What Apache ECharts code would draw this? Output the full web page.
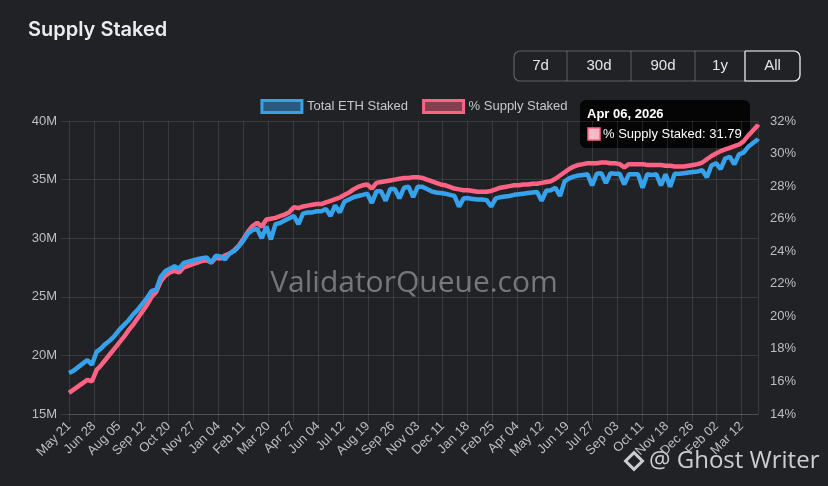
<!DOCTYPE html>
<html>
<head>
<meta charset="utf-8">
<title>Supply Staked</title>
<script src="https://cdn.jsdelivr.net/npm/echarts@6/dist/echarts.min.js"></script>
<style>
  html, body { margin: 0; padding: 0; background: #212226; }
  #chart { width: 828px; height: 486px; }
</style>
</head>
<body>
<div id="chart"></div>
<script>
// data: one point a week from May 21 2023, last point Apr 06 2026
var startDate = '2023-05-21';
var stepDays = 7;
var lastDay = 1051;   // Apr 06, 2026
var tickEvery = 38;   // days between x labels

// Total ETH Staked, millions (the low ones are the daily dips seen in the picture)
var blueM = [
  18.5, 18.7, 19.0, 19.3, 19.6, 19.2, 20.3, 20.6, 21.0, 21.3,
  21.7, 22.2, 22.6, 23.0, 23.5, 23.9, 24.4, 24.9, 25.5, 25.6,
  26.7, 27.2, 27.4, 27.6, 27.4, 27.9, 28.0, 28.1, 28.2, 28.3,
  28.35, 27.9, 28.5, 28.45, 28.2, 28.7, 28.9, 29.3, 29.8, 30.4,
  30.7, 30.8, 30.0, 31.0, 29.9, 31.2, 31.3, 31.5, 31.7, 31.9,
  31.2, 32.1, 32.2, 32.2, 32.3, 32.3, 32.5, 31.9, 32.8, 32.2,
  33.1, 33.3, 33.5, 33.6, 33.7, 33.8, 33.0, 34.0, 34.0, 33.2,
  34.2, 34.2, 33.4, 34.3, 34.4, 33.5, 34.4, 34.4, 34.2, 34.0,
  33.9, 33.85, 33.8, 33.7, 33.6, 32.7, 33.4, 33.4, 33.35, 33.3,
  33.3, 33.25, 32.7, 33.4, 33.5, 33.55, 33.6, 33.7, 33.75, 33.8,
  33.85, 33.9, 33.95, 33.2, 34.05, 34.1, 34.3, 33.6, 34.85, 35.1,
  35.25, 35.35, 35.4, 35.45, 34.5, 35.5, 35.55, 34.7, 35.55, 35.5,
  35.5, 34.6, 35.45, 35.45, 35.45, 34.3, 35.45, 35.4, 35.45, 34.5,
  35.45, 34.4, 35.5, 35.5, 35.55, 35.6, 35.65, 35.7, 35.8, 35.2,
  36.2, 36.4, 35.9, 36.8, 36.95, 36.3, 37.15, 37.3, 37.8, 38.1,
  38.4, 38.5
];

// % Supply Staked
var redPct = [
  15.3, 15.5, 15.7, 15.9, 16.1, 16.0, 16.7, 17.0, 17.35, 17.7,
  18.05, 18.4, 18.75, 19.15, 19.5, 19.9, 20.3, 20.7, 21.2, 21.5,
  22.15, 22.5, 22.7, 22.8, 22.7, 23.0, 23.1, 23.2, 23.3, 23.4,
  23.45, 23.3, 23.6, 23.55, 23.75, 23.85, 24.05, 24.35, 24.75, 25.2,
  25.55, 25.75, 25.5, 25.95, 26.0, 26.05, 26.15, 26.25, 26.4, 26.7,
  26.65, 26.75, 26.8, 26.85, 26.9, 26.9, 27.0, 27.1, 27.2, 27.3,
  27.45, 27.6, 27.8, 27.95, 28.05, 28.1, 27.85, 28.2, 28.25, 28.3,
  28.35, 28.4, 28.45, 28.5, 28.5, 28.55, 28.55, 28.5, 28.4, 28.3,
  28.2, 28.1, 28.05, 27.95, 27.85, 27.8, 27.75, 27.75, 27.7, 27.65,
  27.65, 27.65, 27.7, 27.8, 27.9, 27.95, 28.0, 28.05, 28.05, 28.1,
  28.1, 28.15, 28.15, 28.2, 28.25, 28.3, 28.45, 28.65, 28.85, 29.05,
  29.2, 29.3, 29.35, 29.4, 29.4, 29.4, 29.45, 29.45, 29.4, 29.4,
  29.35, 29.15, 29.35, 29.35, 29.35, 29.35, 29.3, 29.3, 29.3, 29.3,
  29.25, 29.25, 29.2, 29.2, 29.2, 29.25, 29.3, 29.35, 29.45, 29.65,
  29.85, 30.0, 30.15, 30.25, 30.35, 30.45, 30.55, 30.75, 31.1, 31.4,
  31.7, 31.79
];

var leftTicks = { min: 15, max: 40, step: 5 };
var rightTicks = { min: 14, max: 32, step: 2 };
var ranges = ['7d', '30d', '90d', '1y', 'All'];

var months = ['Jan','Feb','Mar','Apr','May','Jun','Jul','Aug','Sep','Oct','Nov','Dec'];
function pad(n){ return n < 10 ? '0' + n : '' + n; }

// one category per day, so the labels fall every 38 days like the original
var dayLabels = [], dayLong = [];
var t0 = new Date(startDate + 'T00:00:00Z');
for (var d = 0; d <= lastDay; d++) {
    var dt = new Date(t0.getTime() + d * 86400000);
    dayLabels.push(months[dt.getUTCMonth()] + ' ' + pad(dt.getUTCDate()));
    dayLong.push(months[dt.getUTCMonth()] + ' ' + pad(dt.getUTCDate()) + ', ' + dt.getUTCFullYear());
}

function toPoints(vals){
    var out = [];
    for (var i = 0; i < vals.length; i++) {
        var day = i * stepDays;
        if (day > lastDay || i === vals.length - 1) day = lastDay;
        out.push([day, vals[i]]);
    }
    return out;
}

var blue = '#36A2EB', pink = '#FF6384';
var gridCol = 'rgba(255,255,255,0.11)';
var labelCol = '#bdbec2';
var font = '"Liberation Sans", Arial, sans-serif';

// range buttons
var btnX = [514, 567, 631, 695, 745, 800];
var btnEls = [];
btnEls.push({
    type: 'rect', shape: { x: 514, y: 51, width: 286, height: 30, r: 6 },
    style: { fill: 'none', stroke: 'rgba(255,255,255,0.28)', lineWidth: 1.2 }
});
for (var b = 0; b < ranges.length; b++) {
    if (b > 0) {
        btnEls.push({
            type: 'line', shape: { x1: btnX[b], y1: 51, x2: btnX[b], y2: 81 },
            style: { stroke: 'rgba(255,255,255,0.28)', lineWidth: 1 }
        });
    }
    btnEls.push({
        type: 'text',
        style: {
            x: (btnX[b] + btnX[b + 1]) / 2, y: 66, text: ranges[b],
            fill: '#e6e6e6', font: '15px ' + font, align: 'center', verticalAlign: 'middle'
        }
    });
}
btnEls.push({
    type: 'rect', shape: { x: 745, y: 51, width: 55, height: 30, r: [0, 6, 6, 0] },
    style: { fill: 'none', stroke: '#e8e8e8', lineWidth: 1.2 }
});

// hover box for the last point, like the original screenshot
var lastVal = redPct[redPct.length - 1];
var tipEls = [
    { type: 'rect', shape: { x: 580, y: 100, width: 170, height: 48, r: 6 }, style: { fill: 'rgba(0,0,0,0.85)' } },
    { type: 'text', style: { x: 587, y: 114, text: dayLong[lastDay], fill: '#fff',
        font: 'bold 13px ' + font, verticalAlign: 'middle' } },
    { type: 'rect', shape: { x: 588, y: 128, width: 12, height: 12 },
        style: { fill: '#f7b9c5', stroke: pink, lineWidth: 1.5 } },
    { type: 'text', style: { x: 603, y: 134.5, text: '% Supply Staked: ' + lastVal.toFixed(2), fill: '#fff',
        font: '13px ' + font, verticalAlign: 'middle' } }
];

var myChart = echarts.init(document.getElementById('chart'));

var option = {
    backgroundColor: '#212226',
    animation: false,
    title: {
        text: 'Supply Staked', left: 28, top: 20, padding: 0,
        textStyle: { color: '#ececec', fontSize: 20, fontWeight: 600, fontFamily: 'Inter, sans-serif' }
    },
    legend: {
        top: 94, left: 'center', icon: 'rect', itemWidth: 40, itemHeight: 12, itemGap: 14,
        textStyle: { color: '#c6c7ca', fontSize: 13, fontFamily: font },
        data: [
            { name: 'Total ETH Staked', itemStyle: { color: 'rgba(54,162,235,0.45)', borderColor: blue, borderWidth: 3 } },
            { name: '% Supply Staked', itemStyle: { color: 'rgba(255,99,132,0.45)', borderColor: pink, borderWidth: 3 } }
        ]
    },
    grid: { left: 69, right: 70, top: 121, bottom: 72 },
    xAxis: {
        type: 'category', data: dayLabels, boundaryGap: false,
        axisLine: { show: true, lineStyle: { color: gridCol } },
        axisTick: { show: true, interval: tickEvery - 1, length: 8, lineStyle: { color: gridCol } },
        splitLine: { show: true, interval: tickEvery - 1, lineStyle: { color: gridCol } },
        axisLabel: {
            interval: tickEvery - 1, rotate: 45, margin: 10,
            color: labelCol, fontSize: 13, fontFamily: font
        }
    },
    yAxis: [{
        type: 'value', min: leftTicks.min, max: leftTicks.max, interval: leftTicks.step,
        axisLine: { show: false },
        axisTick: { show: true, length: 8, lineStyle: { color: gridCol } },
        splitLine: { lineStyle: { color: gridCol } },
        axisLabel: { color: labelCol, fontSize: 13, fontFamily: font, margin: 12, formatter: function(v){ return v + 'M'; } }
    }, {
        type: 'value', min: rightTicks.min, max: rightTicks.max, interval: rightTicks.step,
        position: 'right',
        axisLine: { show: true, lineStyle: { color: gridCol } },
        axisTick: { show: false },
        splitLine: { show: false },
        axisLabel: { color: labelCol, fontSize: 13, fontFamily: font, margin: 12, formatter: function(v){ return v + '%'; } }
    }],
    series: [{
        name: 'Total ETH Staked', type: 'line', yAxisIndex: 0,
        data: toPoints(blueM), showSymbol: false,
        lineStyle: { color: blue, width: 4.5 }, itemStyle: { color: blue },
        emphasis: { disabled: true }, z: 3
    }, {
        name: '% Supply Staked', type: 'line', yAxisIndex: 1,
        data: toPoints(redPct), showSymbol: false,
        lineStyle: { color: pink, width: 4.5 }, itemStyle: { color: pink },
        emphasis: { disabled: true }, z: 2
    }],
    graphic: [
        {
            type: 'text', z: 0, left: 'center', top: 268,
            style: { text: 'ValidatorQueue.com', fill: 'rgba(200,202,206,0.5)', font: '30px "Open Sans", sans-serif' }
        },
        { type: 'group', children: btnEls },
        { type: 'group', z: 100, children: tipEls },
        {
            type: 'group', z: 100,
            children: [
                { type: 'rect', shape: { x: -6, y: -6, width: 12, height: 12 }, x: 634, y: 461, rotation: Math.PI / 4,
                  style: { fill: 'none', stroke: 'rgba(235,235,235,0.85)', lineWidth: 3 } },
                { type: 'text', style: { x: 649, y: 461, text: '@ Ghost Writer', fill: 'rgba(235,235,235,0.85)',
                  font: '24px "Open Sans", sans-serif', verticalAlign: 'middle' } }
            ]
        }
    ]
};

myChart.setOption(option);
</script>
</body>
</html>
